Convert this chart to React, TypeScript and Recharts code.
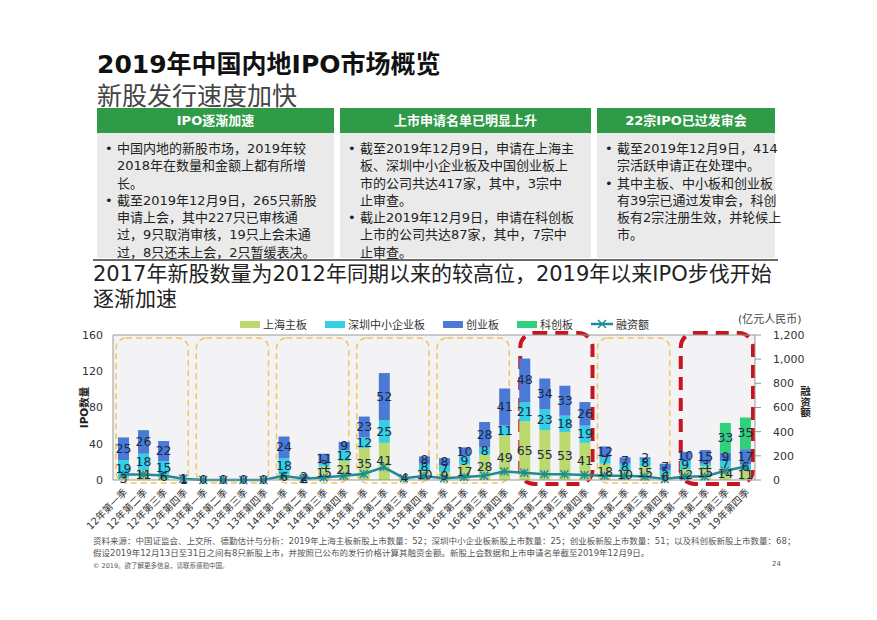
import {
  ComposedChart,
  Bar,
  Line,
  XAxis,
  YAxis,
  CartesianGrid,
  Legend,
  LabelList,
  ReferenceArea,
  ReferenceLine,
} from 'recharts';

const FONT = '"DejaVu Sans", "Noto Sans CJK SC", sans-serif';

const quarters = [
  '12年第一季', '12年第二季', '12年第三季', '12年第四季',
  '13年第一季', '13年第二季', '13年第三季', '13年第四季',
  '14年第一季', '14年第二季', '14年第三季', '14年第四季',
  '15年第一季', '15年第二季', '15年第三季', '15年第四季',
  '16年第一季', '16年第二季', '16年第三季', '16年第四季',
  '17年第一季', '17年第二季', '17年第三季', '17年第四季',
  '18年第一季', '18年第二季', '18年第三季', '18年第四季',
  '19年第一季', '19年第二季', '19年第三季', '19年第四季',
];

// IPO counts per board
const shanghai = [3, 11, 6, 1, 0, 0, 0, 0, 6, 2, 15, 21, 35, 41, 4, 10, 9, 17, 28, 49, 65, 55, 53, 41, 18, 10, 15, 6, 12, 15, 14, 11];
const shenzhenSme = [19, 18, 15, 0, 0, 0, 0, 0, 18, 0, 3, 12, 12, 25, 0, 8, 7, 9, 8, 11, 21, 23, 18, 19, 7, 8, 8, 5, 9, 3, 7, 6];
const chinext = [25, 26, 22, 1, 0, 0, 0, 0, 24, 2, 11, 9, 23, 52, 0, 8, 8, 10, 28, 41, 48, 34, 33, 26, 12, 7, 2, 7, 10, 15, 9, 17];
const star = [0, 0, 0, 0, 0, 0, 0, 0, 0, 0, 0, 0, 0, 0, 0, 0, 0, 0, 0, 0, 0, 0, 0, 0, 0, 0, 0, 0, 0, 0, 33, 35];

// funds raised, 亿元人民币
const funds = [45, 45, 38, 10, 0, 0, 0, 0, 35, 10, 20, 35, 50, 107, 15, 33, 15, 25, 36, 70, 60, 47, 47, 41, 36, 36, 28, 8, 28, 28, 77, 110];

const leftTicks = [0, 40, 80, 120, 160];
const rightTicks = [0, 200, 400, 600, 800, 1000, 1200];

// year groups outlined on the chart
const yearGroups = [
  { from: '12年第一季', to: '12年第四季', hot: false },
  { from: '13年第一季', to: '13年第四季', hot: false },
  { from: '14年第一季', to: '14年第四季', hot: false },
  { from: '15年第一季', to: '15年第四季', hot: false },
  { from: '16年第一季', to: '16年第四季', hot: false },
  { from: '17年第一季', to: '17年第四季', hot: true },
  { from: '18年第一季', to: '18年第四季', hot: false },
  { from: '19年第一季', to: '19年第四季', hot: true },
];

const data = quarters.map((q, i) => ({
  q,
  sh: shanghai[i],
  sz: shenzhenSme[i],
  gem: chinext[i],
  star: star[i],
  fund: funds[i],
  total: shanghai[i] + shenzhenSme[i] + chinext[i] + star[i],
}));

const C = {
  sh: '#bcd96e',
  sz: '#33cfe4',
  gem: '#4a79d6',
  star: '#33d07c',
  line: '#1f8a98',
  label: '#1b2a48',
};

const legendItems = [
  { name: '上海主板', color: C.sh, line: false },
  { name: '深圳中小企业板', color: C.sz, line: false },
  { name: '创业板', color: C.gem, line: false },
  { name: '科创板', color: C.star, line: false },
  { name: '融资额', color: C.line, line: true },
];

const GroupBox = (hot: boolean) => (p: any) => {
  const { x, y, width, height } = p;
  if (hot) {
    return (
      <rect
        x={x + 6}
        y={y - 2}
        width={width - 8}
        height={height + 6}
        rx={14}
        fill="none"
        stroke="#c8141e"
        strokeWidth={4}
        strokeDasharray="13 8"
      />
    );
  }
  return (
    <rect
      x={x + 3}
      y={y + 3}
      width={width - 8}
      height={height}
      rx={10}
      fill="none"
      stroke="#f1c55a"
      strokeWidth={1.5}
      strokeDasharray="6 4"
    />
  );
};

const segmentLabel = (p: any) => {
  const { x, y, width, height, value } = p;
  if (!value) return null;
  return (
    <text
      x={x + width / 2}
      y={y + height / 2}
      dy={4}
      textAnchor="middle"
      fontSize={12.5}
      fontFamily={FONT}
      fill={C.label}
    >
      {value}
    </text>
  );
};

// "0" marks for quarters with no listings at all
const zeroLabel = (p: any) => {
  const { x, y, value } = p;
  if (value !== 0) return null;
  return (
    <text x={x} y={y} dy={4} textAnchor="middle" fontSize={12.5} fontFamily={FONT} fill={C.label}>
      0
    </text>
  );
};

const StarDot = (p: any) => {
  const { cx, cy, index } = p;
  if (cx == null || cy == null) return <g key={index} />;
  const s = 4;
  return (
    <g key={index} stroke={C.line} strokeWidth={1.4}>
      <line x1={cx - s} y1={cy - s} x2={cx + s} y2={cy + s} />
      <line x1={cx - s} y1={cy + s} x2={cx + s} y2={cy - s} />
      <line x1={cx} y1={cy - s} x2={cx} y2={cy + s} />
    </g>
  );
};

const renderLegend = () => (
  <div style={{ display: 'flex', gap: 18, fontFamily: FONT, fontSize: 11, color: '#333' }}>
    {legendItems.map((it) => (
      <div key={it.name} style={{ display: 'flex', alignItems: 'center' }}>
        {it.line ? (
          <svg width={22} height={10} style={{ marginRight: 3 }}>
            <line x1={0} y1={5} x2={22} y2={5} stroke={it.color} strokeWidth={2.5} />
            <line x1={7} y1={1} x2={15} y2={9} stroke={it.color} strokeWidth={1.4} />
            <line x1={7} y1={9} x2={15} y2={1} stroke={it.color} strokeWidth={1.4} />
          </svg>
        ) : (
          <span style={{ width: 20, height: 7, background: it.color, marginRight: 3, display: 'inline-block' }} />
        )}
        <span>{it.name}</span>
      </div>
    ))}
  </div>
);

const box = (left: number, width: number, title: string, lines: string[][]) => (
  <div style={{ position: 'absolute', left, top: 108, width }}>
    <div
      style={{
        height: 25,
        background: '#2f9a47',
        color: '#fff',
        fontWeight: 'bold',
        fontSize: 13,
        lineHeight: '25px',
        textAlign: 'center',
      }}
    >
      {title}
    </div>
    <div style={{ height: 118, background: '#eaeaea', padding: '7px 0 0 8px', fontSize: 13, color: '#222' }}>
      {lines.map((bullet, i) => (
        <div key={i} style={{ display: 'flex' }}>
          <span style={{ width: 12, flexShrink: 0, lineHeight: '17.3px' }}>•</span>
          <div>
            {bullet.map((l, j) => (
              <div key={j} style={{ lineHeight: '17.3px', whiteSpace: 'nowrap' }}>
                {l}
              </div>
            ))}
          </div>
        </div>
      ))}
    </div>
  </div>
);

export default function App() {
  return (
    <div
      style={{
        position: 'absolute',
        left: 0,
        top: 0,
        width: 877,
        height: 620,
        background: '#fff',
        fontFamily: FONT,
        overflow: 'hidden',
      }}
    >
      <div style={{ position: 'absolute', left: 97, top: 44, fontSize: 25, fontWeight: 'bold', color: '#111' }}>
        2019年中国内地IPO市场概览
      </div>
      <div style={{ position: 'absolute', left: 97, top: 76, fontSize: 25, color: '#444' }}>新股发行速度加快</div>

      {box(97, 237, 'IPO逐渐加速', [
        ['中国内地的新股市场，2019年较', '2018年在数量和金额上都有所增', '长。'],
        ['截至2019年12月9日，265只新股', '申请上会，其中227只已审核通', '过，9只取消审核，19只上会未通', '过，8只还未上会，2只暂缓表决。'],
      ])}
      {box(340, 251, '上市申请名单已明显上升', [
        ['截至2019年12月9日，申请在上海主', '板、深圳中小企业板及中国创业板上', '市的公司共达417家，其中，3宗中', '止审查。'],
        ['截止2019年12月9日，申请在科创板', '上市的公司共达87家，其中，7宗中', '止审查。'],
      ])}
      {box(597, 178, '22宗IPO已过发审会', [
        ['截至2019年12月9日，414', '宗活跃申请正在处理中。'],
        ['其中主板、中小板和创业板', '有39宗已通过发审会，科创', '板有2宗注册生效，并轮候上', '市。'],
      ])}
      <div style={{ position: 'absolute', left: 93, top: 259, width: 685, height: 2, background: '#6a6a6a' }} />

      <div style={{ position: 'absolute', left: 93, top: 262, fontSize: 21, lineHeight: '25px', color: '#222' }}>
        2017年新股数量为2012年同期以来的较高位，2019年以来IPO步伐开始
        <br />
        逐渐加速
      </div>

      <div style={{ position: 'absolute', left: 738, top: 310, fontSize: 11, color: '#444' }}>(亿元人民币)</div>
      <div
        style={{
          position: 'absolute',
          left: 58,
          top: 400,
          width: 50,
          textAlign: 'center',
          transform: 'rotate(-90deg)',
          fontSize: 10.5,
          fontWeight: 'bold',
          color: '#222',
        }}
      >
        IPO数量
      </div>
      <div
        style={{
          position: 'absolute',
          left: 799,
          top: 386,
          writingMode: 'vertical-rl',
          textOrientation: 'upright',
          fontSize: 10.5,
          lineHeight: '12px',
          fontWeight: 'bold',
          color: '#222',
        }}
      >
        融资额
      </div>

      <div style={{ position: 'absolute', left: 0, top: 308 }}>
        <ComposedChart
          width={877}
          height={232}
          data={data}
          margin={{ top: 27, right: 72, left: 63, bottom: 0 }}
          barSize={11}
        >
          <CartesianGrid fill="#f3f3f5" horizontal={false} vertical={false} />
          {yearGroups.map((g) => (
            <ReferenceArea
              key={g.from}
              yAxisId="left"
              x1={g.from}
              x2={g.to}
              y1={0}
              y2={160}
              ifOverflow="visible"
              shape={GroupBox(g.hot)}
            />
          ))}
          <ReferenceLine yAxisId="left" y={160} stroke="#9a9a9a" strokeWidth={1} />
          <XAxis
            dataKey="q"
            interval={0}
            height={60}
            angle={-45}
            textAnchor="end"
            tickLine={false}
            tickMargin={2}
            axisLine={{ stroke: '#9a9a9a' }}
            tick={{ fontSize: 10, fill: '#333', fontFamily: FONT }}
          />
          <YAxis
            yAxisId="left"
            width={50}
            domain={[0, 160]}
            ticks={leftTicks}
            tickLine={false}
            tickSize={4}
            tickMargin={6}
            axisLine={{ stroke: '#9a9a9a' }}
            tick={{ fontSize: 11, fill: '#333', fontFamily: FONT }}
          />
          <YAxis
            yAxisId="right"
            orientation="right"
            width={50}
            domain={[0, 1200]}
            ticks={rightTicks}
            tickFormatter={(v: number) => v.toLocaleString('en-US')}
            tickSize={6}
            tickMargin={12}
            tickLine={{ stroke: '#9a9a9a' }}
            axisLine={{ stroke: '#9a9a9a' }}
            tick={{ fontSize: 11, fill: '#333', fontFamily: FONT }}
          />
          <Legend
            content={renderLegend}
            layout="horizontal"
            verticalAlign="middle"
            align="center"
            wrapperStyle={{ left: 240, top: 8, width: 460, height: 14 }}
          />
          <Bar yAxisId="left" dataKey="sh" name="上海主板" stackId="ipo" fill={C.sh} isAnimationActive={false}>
            <LabelList dataKey="sh" content={segmentLabel} />
          </Bar>
          <Bar yAxisId="left" dataKey="sz" name="深圳中小企业板" stackId="ipo" fill={C.sz} isAnimationActive={false}>
            <LabelList dataKey="sz" content={segmentLabel} />
          </Bar>
          <Bar yAxisId="left" dataKey="gem" name="创业板" stackId="ipo" fill={C.gem} isAnimationActive={false}>
            <LabelList dataKey="gem" content={segmentLabel} />
          </Bar>
          <Bar yAxisId="left" dataKey="star" name="科创板" stackId="ipo" fill={C.star} isAnimationActive={false}>
            <LabelList dataKey="star" content={segmentLabel} />
          </Bar>
          <Line
            yAxisId="right"
            dataKey="fund"
            name="融资额"
            type="linear"
            stroke={C.line}
            strokeWidth={2.5}
            dot={StarDot}
            activeDot={false}
            legendType="line"
            isAnimationActive={false}
          >
            <LabelList dataKey="total" content={zeroLabel} />
          </Line>
        </ComposedChart>
      </div>

      <div style={{ position: 'absolute', left: 93, top: 535, fontSize: 8.5, lineHeight: '12px', color: '#555' }}>
        资料来源：中国证监会、上交所、德勤估计与分析：2019年上海主板新股上市数量：52；深圳中小企业板新股上市数量：25；创业板新股上市数量：51；以及科创板新股上市数量：68；
        <br />
        假设2019年12月13日至31日之间有8只新股上市，并按照已公布的发行价格计算其融资金额。新股上会数据和上市申请名单截至2019年12月9日。
      </div>
      <div style={{ position: 'absolute', left: 93, top: 560, fontSize: 6.5, color: '#555' }}>
        © 2019。欲了解更多信息，请联系德勤中国。
      </div>
      <div style={{ position: 'absolute', left: 772, top: 560, fontSize: 7, color: '#555' }}>24</div>
    </div>
  );
}
